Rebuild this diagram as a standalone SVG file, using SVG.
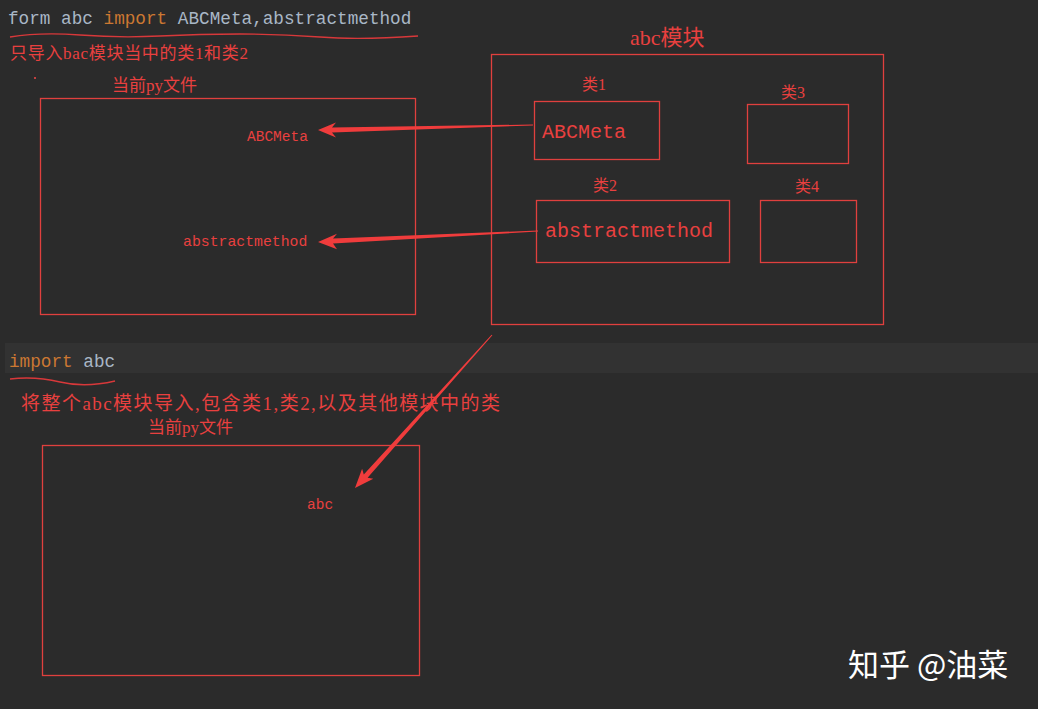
<svg xmlns="http://www.w3.org/2000/svg" width="1038" height="709" viewBox="0 0 1038 709">
<style>
.bg{fill:#2b2b2b}
.box{fill:none;stroke:#e0403e;stroke-width:1.3}
.red{fill:#e8403f}
.cjk{font-family:"Liberation Serif","Noto Sans CJK SC",serif}
.mono{font-family:"Liberation Mono","Noto Sans CJK SC",monospace}
.code{font-family:"Liberation Mono",monospace;font-size:17.7px;fill:#a9b7c6}
.kw{fill:#cc7832}
.wave{fill:none;stroke:#d8383a;stroke-width:1.3}
.arrow{fill:#f03c3c}
</style>
<rect class="bg" x="0" y="0" width="1038" height="709"/>
<rect x="5" y="343" width="1033" height="30" fill="#323232"/>

<g id="code1">
<text class="code" x="8" y="24">form abc <tspan class="kw">import</tspan> ABCMeta,abstractmethod</text>
<path class="wave" d="M10,37 Q40,32 80,35 T160,36 T240,34 T320,37 T418,36"/>
<text class="red cjk" x="10" y="59" font-size="17" textLength="238">只导入bac模块当中的类1和类2</text>
<rect x="34" y="77" width="2" height="2" fill="#c04040"/>
</g>

<g id="file1">
<text class="red cjk" x="112" y="91" font-size="17">当前py文件</text>
<rect class="box" x="40.5" y="98.5" width="375" height="216"/>
<text class="red mono" x="247" y="141" font-size="14.5">ABCMeta</text>
<text class="red mono" x="183" y="246" font-size="14.8">abstractmethod</text>
</g>

<g id="module">
<text class="red cjk" x="630" y="45" font-size="22">abc模块</text>
<rect class="box" x="491.5" y="54.5" width="392" height="270"/>
</g>

<g id="class1">
<text class="red cjk" x="582" y="90" font-size="16">类1</text>
<rect class="box" x="534.5" y="101.5" width="125" height="58"/>
<text class="red mono" x="542" y="138" font-size="20">ABCMeta</text>
</g>

<g id="class2">
<text class="red cjk" x="593" y="191" font-size="16">类2</text>
<rect class="box" x="536.5" y="200.5" width="193" height="62"/>
<text class="red mono" x="545" y="237" font-size="20">abstractmethod</text>
</g>

<g id="class3">
<text class="red cjk" x="781" y="98" font-size="16">类3</text>
<rect class="box" x="747.5" y="104.5" width="101" height="59"/>
</g>

<g id="class4">
<text class="red cjk" x="795" y="192" font-size="16">类4</text>
<rect class="box" x="760.5" y="200.5" width="96" height="62"/>
</g>

<g id="code2">
<text class="code" x="9" y="367"><tspan class="kw">import</tspan> abc</text>
<path class="wave" d="M10,379 Q35,376 60,382 T115,381"/>
<text class="red cjk" x="21" y="410" font-size="19" textLength="479">将整个abc模块导入,包含类1,类2,以及其他模块中的类</text>
</g>

<g id="file2">
<text class="red cjk" x="148" y="433" font-size="17">当前py文件</text>
<rect class="box" x="42.5" y="445.5" width="377" height="230"/>
<text class="red mono" x="307" y="509" font-size="14.5">abc</text>
</g>

<g id="connectors">
<path class="arrow" d="M533,124.5 L332,127.6 L336,122.6 L318,130 L336,137.4 L332,132.4 L533,125.5 Z"/>
<path class="arrow" d="M538,230.5 L333,238.6 L337,233.8 L318,242 L337,249.2 L333,243.6 L538,231.5 Z"/>
<path class="arrow" d="M491.6,334.7 L363.8,474.4 L362.1,468.8 L355,488 L373.3,478.8 L367.6,477.8 L492.4,335.3 Z"/>
</g>

<g id="watermark">
<text x="848" y="676" font-family="'Noto Sans CJK SC',sans-serif" font-size="31" fill="#ffffff">知乎 @油菜</text>
</g>
</svg>
